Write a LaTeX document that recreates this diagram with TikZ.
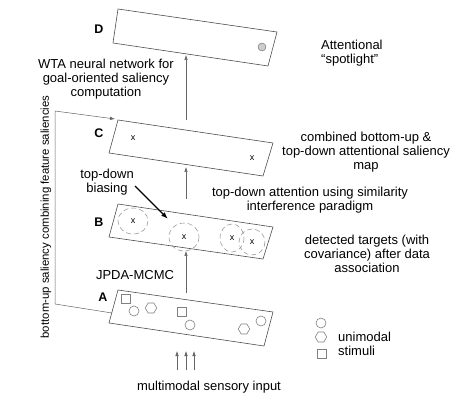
\documentclass[tikz,border=0pt]{standalone}
\usepackage{fontspec}
\setmainfont{Liberation Sans}
\usepackage{tikz}
\usetikzlibrary{arrows.meta,shapes.geometric}

\tikzset{
  plane/.style={draw=black!70, line width=0.6pt},
  tip/.style={-{Latex[length=5pt,width=3.5pt]}, draw=black!60, line width=0.5pt},
  lbl/.style={font=\fontsize{13}{14}\selectfont, align=center, inner sep=0pt},
  tag/.style={font=\fontsize{12.5}{14}\selectfont\bfseries, inner sep=0pt},
  xmark/.style={font=\fontsize{9}{9}\selectfont, inner sep=0pt},
  cov/.style={draw=black!45, dash pattern=on 5pt off 3pt, line width=0.5pt},
  stim/.style={draw=black!50, line width=0.6pt, inner sep=0pt},
}

\begin{document}
\begin{tikzpicture}[x=1pt, y=-1pt]
        \useasboundingbox (0,0) rectangle (474,406);

        % Planes
        \coordinate (D) at (118,9);
        \coordinate (C) at (118,120);
        \coordinate (B) at (118,204);
        \coordinate (A) at (118,290);
        \draw[plane] (D) -- ++(159,23) -- ++(-9,34) -- ++(-155,-23) -- cycle;
        \draw[plane] (C) -- ++(155,23) -- ++(-10,33) -- ++(-154,-23) -- cycle;
        \draw[plane] (B) -- ++(155,23) -- ++(-10,32) -- ++(-154,-22) -- cycle;
        \draw[plane] (A) -- ++(155,22) -- ++(-9,34) -- ++(-155,-23) -- cycle;
        \node[tag] (tagD) at (99,29) {D};
        \node[tag] (tagC) at (99,133) {C};
        \node[tag] (tagB) at (99,222) {B};
        \node[tag] (tagA) at (103,297) {A};

        % Spotlight
        \node[circle, draw=black!60, fill=black!20, minimum size=8pt, inner sep=0pt] (spot) at (262,47) {};

        % Saliency map
        \node[xmark] (c1) at (133,138) {x};
        \node[xmark] (c2) at (252,158) {x};

        % Detected targets
        \node[xmark] (b1) at (133,221) {x};
        \node[xmark] (b2) at (184,237) {x};
        \node[xmark] (b3) at (232,238) {x};
        \node[xmark] (b4) at (252,242) {x};
        \draw[cov] (b1) ellipse (15 and 13);
        \draw[cov] (b2) ellipse (15 and 14);
        \draw[cov] (b3) ellipse (12 and 14);
        \draw[cov] (b4) ellipse (13 and 13);

        % Stimuli
        \node[stim, rectangle, minimum size=9pt] (s1) at (126,299) {};
        \node[stim, circle, minimum size=10pt] (s2) at (134,311) {};
        \node[stim, regular polygon, regular polygon sides=6, minimum size=11.5pt] (s3) at (151,308) {};
        \node[stim, rectangle, minimum size=9pt] (s4) at (182,312) {};
        \node[stim, circle, minimum size=10pt] (s5) at (190,325) {};
        \node[stim, regular polygon, regular polygon sides=6, minimum size=11.5pt] (s6) at (244,329) {};
        \node[stim, circle, minimum size=10pt] (s7) at (261,321) {};

        % Connections
        \coordinate (Dbot) at (186,55);
        \coordinate (Cup) at (186,120);
        \coordinate (Cbot) at (186,167);
        \coordinate (Bup) at (186,199);
        \coordinate (Bbot) at (186,251);
        \coordinate (Aup) at (186,293);
        \draw[tip] (Cup) -- (Dbot);
        \draw[tip] (Bup) -- (Cbot);
        \draw[tip] (Aup) -- (Bbot);

        % Sensory input
        \coordinate (in1) at (177,370);
        \coordinate (in2) at (186,370);
        \coordinate (in3) at (194,370);
        \coordinate (A1) at (177,351);
        \coordinate (A2) at (186,351);
        \coordinate (A3) at (194,351);
        \draw[tip] (in1) -- (A1);
        \draw[tip] (in2) -- (A2);
        \draw[tip] (in3) -- (A3);

        % Bottom-up path
        \coordinate (Aleft) at (112,313);
        \coordinate (Cleft) at (115,119);
        \draw[tip] (Aleft) -- (55,304) -- (55,111) -- (Cleft);

        % Top-down biasing
        \node[lbl] (bias) at (107,182) {top-down\\biasing};
        \coordinate (biasend) at (168,219);
        \draw[-{Latex[length=7pt,width=5pt]}, line width=1.4pt] (135,186) -- (biasend);

        % Texts
        \node[lbl] (wta) at (106,79) {WTA neural network for\\goal-oriented saliency\\computation};
        \node[lbl, anchor=west, align=left] (spotlbl) at (321,53) {Attentional\\``spotlight''};
        \node[lbl] (comb) at (366,152) {combined bottom-up \&\\top-down attentional saliency\\map};
        \node[lbl] (simil) at (310,200) {top-down attention using similarity\\interference paradigm};
        \node[lbl] (detect) at (367,254) {detected targets (with\\covariance) after data\\association};
        \node[lbl] (jpda) at (135,275) {JPDA-MCMC};
        \node[lbl] (input) at (209,387) {multimodal sensory input};
        \node[lbl, font=\fontsize{11.4}{13}\selectfont, rotate=90] (bottomup) at (46,217) {bottom-up saliency combining feature saliencies};

        % Legend
        \node[stim, circle, minimum size=10pt] (l1) at (321,323) {};
        \node[stim, regular polygon, regular polygon sides=6, minimum size=11.5pt] (l2) at (321,337) {};
        \node[stim, rectangle, minimum size=9pt] (l3) at (322,354) {};
        \node[lbl, anchor=west] (uni) at (338,337) {unimodal};
        \node[lbl, anchor=west] (stimlbl) at (338,351) {stimuli};
    \end{tikzpicture}
\end{document}
